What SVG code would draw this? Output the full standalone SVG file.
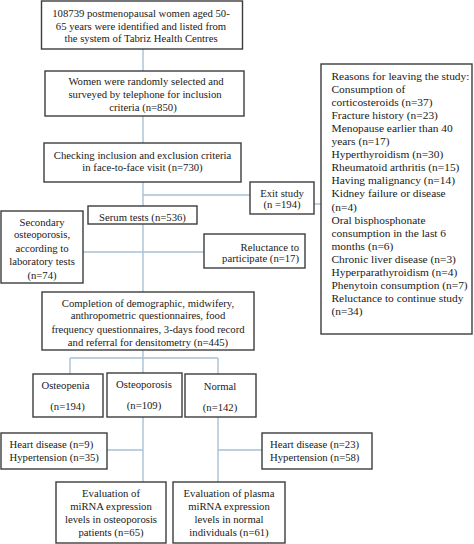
<svg xmlns="http://www.w3.org/2000/svg" width="474" height="544" viewBox="0 0 474 544">
<style>
.box{fill:#ffffff;stroke:#3c3c3c;stroke-width:1.4}
.t{font-family:"Liberation Serif","Times New Roman",serif;font-size:10.7px;fill:#1a1a1a}
.r{font-size:11.4px}
.c{text-anchor:middle}
.e{text-anchor:end}
.con line{stroke:#a9c1d2;stroke-width:1.4}
</style>
<rect width="474" height="544" fill="#ffffff"/>
<g id="connectors" class="con">
<line x1="143" y1="49" x2="143" y2="71"/>
<line x1="143" y1="116" x2="143" y2="143"/>
<line x1="143" y1="182" x2="143" y2="206"/>
<line x1="143" y1="195" x2="250" y2="195"/>
<line x1="314" y1="204" x2="321" y2="204"/>
<line x1="143" y1="224" x2="143" y2="292"/>
<line x1="83" y1="252" x2="204" y2="252"/>
<line x1="143" y1="350" x2="143" y2="373"/>
<line x1="70" y1="358" x2="218" y2="358"/>
<line x1="70" y1="358" x2="70" y2="374"/>
<line x1="218" y1="358" x2="218" y2="374"/>
<line x1="143" y1="417" x2="143" y2="482"/>
<line x1="107" y1="450" x2="143" y2="450"/>
<line x1="218" y1="417" x2="218" y2="482"/>
<line x1="218" y1="450" x2="262" y2="450"/>
</g>
<g id="n1"><rect class="box" x="41.5" y="1" width="201" height="48"/>
<text class="t c" x="141" y="17">108739 postmenopausal women aged 50-</text>
<text class="t c" x="141" y="29.5">65 years were identified and listed from</text>
<text class="t c" x="141" y="42">the system of Tabriz Health Centres</text></g>
<g id="n2"><rect class="box" x="45" y="71" width="199" height="45"/>
<text class="t c" x="146" y="85">Women were randomly selected and</text>
<text class="t c" x="145" y="98">surveyed by telephone for inclusion</text>
<text class="t c" x="143" y="111">criteria (n=850)</text></g>
<g id="n3"><rect class="box" x="44" y="143" width="197" height="39"/>
<text class="t c" x="142.5" y="159">Checking inclusion and exclusion criteria</text>
<text class="t c" x="142.5" y="171">in face-to-face visit (n=730)</text></g>
<g id="exit"><rect class="box" x="250" y="182" width="64" height="32"/>
<text class="t c" x="282" y="197">Exit study</text>
<text class="t c" x="282" y="208">(n =194)</text></g>
<g id="reasons"><rect class="box" x="321" y="64" width="151" height="270"/>
<text class="t r" x="331.5" y="79.5">Reasons for leaving the study:</text>
<text class="t r" x="331.5" y="92.6">Consumption of</text>
<text class="t r" x="331.5" y="105.7">corticosteroids (n=37)</text>
<text class="t r" x="331.5" y="118.8">Fracture history (n=23)</text>
<text class="t r" x="331.5" y="131.9">Menopause earlier than 40</text>
<text class="t r" x="331.5" y="145">years (n=17)</text>
<text class="t r" x="331.5" y="158.1">Hyperthyroidism (n=30)</text>
<text class="t r" x="331.5" y="171.2">Rheumatoid arthritis (n=15)</text>
<text class="t r" x="331.5" y="184.3">Having malignancy (n=14)</text>
<text class="t r" x="331.5" y="197.4">Kidney failure or disease</text>
<text class="t r" x="331.5" y="210.5">(n=4)</text>
<text class="t r" x="331.5" y="223.6">Oral bisphosphonate</text>
<text class="t r" x="331.5" y="236.7">consumption in the last 6</text>
<text class="t r" x="331.5" y="249.8">months (n=6)</text>
<text class="t r" x="331.5" y="262.9">Chronic liver disease (n=3)</text>
<text class="t r" x="331.5" y="276">Hyperparathyroidism (n=4)</text>
<text class="t r" x="331.5" y="289.1">Phenytoin consumption (n=7)</text>
<text class="t r" x="331.5" y="302.2">Reluctance to continue study</text>
<text class="t r" x="331.5" y="315.3">(n=34)</text></g>
<g id="serum"><rect class="box" x="88" y="206" width="109" height="18"/>
<text class="t c" x="142.5" y="220.5">Serum tests (n=536)</text></g>
<g id="secondary"><rect class="box" x="1" y="211" width="82" height="72"/>
<text class="t c" x="42" y="225.5">Secondary</text>
<text class="t c" x="42" y="238">osteoporosis,</text>
<text class="t c" x="42" y="251.5">according to</text>
<text class="t c" x="42" y="265">laboratory tests</text>
<text class="t c" x="42" y="279">(n=74)</text></g>
<g id="reluctance"><rect class="box" x="204" y="234" width="101" height="34"/>
<text class="t e" x="299" y="250.5">Reluctance to</text>
<text class="t e" x="299" y="262">participate (n=17)</text></g>
<g id="completion"><rect class="box" x="42" y="292" width="212" height="58"/>
<text class="t c" x="148" y="306.5">Completion of demographic, midwifery,</text>
<text class="t c" x="148" y="319">anthropometric questionnaires, food</text>
<text class="t c" x="148" y="333">frequency questionnaires, 3-days food record</text>
<text class="t c" x="148" y="345.5">and referral for densitometry (n=445)</text></g>
<g id="osteopenia"><rect class="box" x="33" y="374" width="70" height="43"/>
<text class="t c" x="65.5" y="388.5">Osteopenia</text>
<text class="t c" x="67.5" y="410">(n=194)</text></g>
<g id="osteoporosis"><rect class="box" x="107" y="373" width="75" height="44"/>
<text class="t c" x="144" y="387.5">Osteoporosis</text>
<text class="t c" x="144" y="409">(n=109)</text></g>
<g id="normal"><rect class="box" x="185" y="374" width="71" height="43"/>
<text class="t c" x="220" y="389.5">Normal</text>
<text class="t c" x="220" y="410.5">(n=142)</text></g>
<g id="heart1"><rect class="box" x="1" y="433" width="106" height="36"/>
<text class="t" x="9.5" y="448">Heart disease (n=9)</text>
<text class="t" x="9.5" y="460.5">Hypertension (n=35)</text></g>
<g id="heart2"><rect class="box" x="262" y="433" width="110" height="36"/>
<text class="t" x="270" y="448">Heart disease (n=23)</text>
<text class="t" x="270" y="460.5">Hypertension (n=58)</text></g>
<g id="eval1"><rect class="box" x="56" y="482" width="110" height="61"/>
<text class="t c" x="111" y="496.5">Evaluation of</text>
<text class="t c" x="111" y="510">miRNA expression</text>
<text class="t c" x="111" y="523">levels in osteoporosis</text>
<text class="t c" x="111" y="536">patients (n=65)</text></g>
<g id="eval2"><rect class="box" x="173" y="482" width="112" height="61"/>
<text class="t c" x="229" y="496.5">Evaluation of plasma</text>
<text class="t c" x="229" y="510">miRNA expression</text>
<text class="t c" x="229" y="523">levels in normal</text>
<text class="t c" x="229" y="536">individuals (n=61)</text></g>
</svg>
